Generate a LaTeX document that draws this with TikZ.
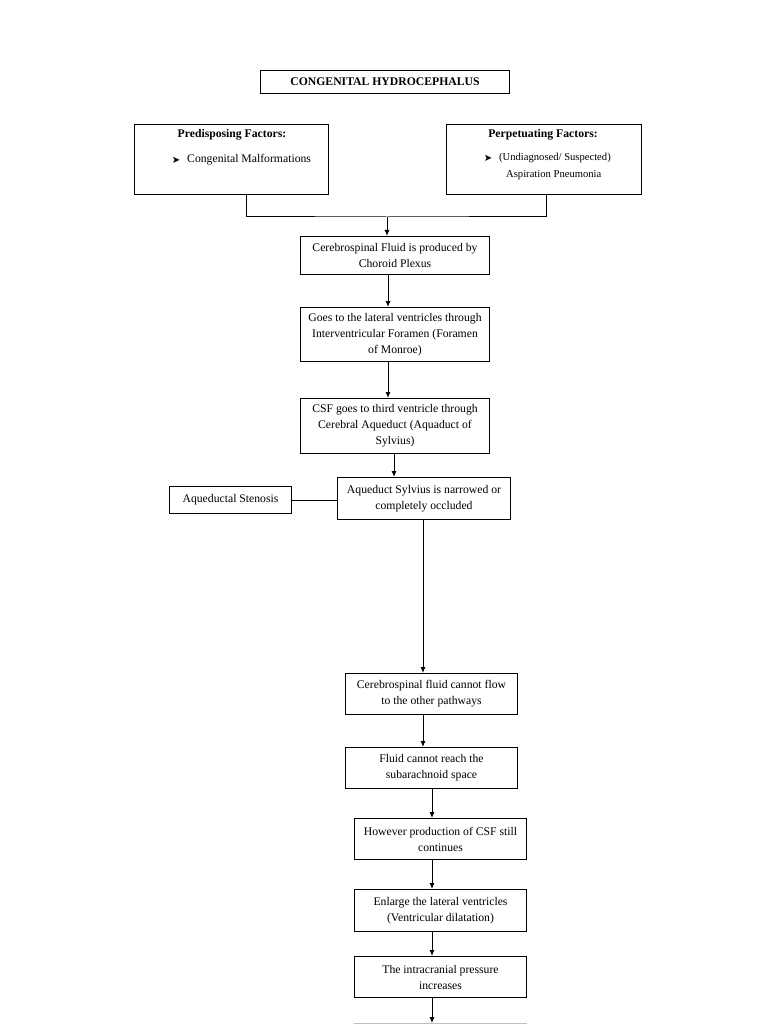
\documentclass[tikz,border=0pt]{standalone}
\usepackage{fontspec}
\setmainfont{Liberation Serif}
\newfontfamily\symf{DejaVu Sans}
\usetikzlibrary{arrows.meta}
\begin{document}
\begin{tikzpicture}[x=1pt,y=-1pt, font=\fontsize{11.7}{16}\selectfont,
  box/.style={draw, line width=1pt, inner sep=0pt, anchor=north west, align=center},
  txt/.style={inner sep=0pt},
  small/.style={font=\fontsize{10.6}{15}\selectfont},
  arr/.style={line width=1pt, -{Latex[length=6pt,width=5pt]}},
  ln/.style={line width=1pt}]
\useasboundingbox[fill=white] (0,0) rectangle (768,1024);

\node[box, minimum width=249, minimum height=23] (title) at (260,70) {\textbf{CONGENITAL HYDROCEPHALUS}};

% predisposing
\node[box, minimum width=194, minimum height=70] (pre) at (134,124) {};
\node[txt] (preH) at (232,135) {\textbf{Predisposing Factors:}};
\node[txt] (preBul) at (176,160) {\symf\fontsize{10}{12}\selectfont ➤};
\node[txt, anchor=west] (preB) at (187,160) {Congenital Malformations};

% perpetuating
\node[box, minimum width=195, minimum height=70] (per) at (446,124) {};
\node[txt] (perH) at (543,135) {\textbf{Perpetuating Factors:}};
\node[txt] (perBul) at (488,158) {\symf\fontsize{10}{12}\selectfont ➤};
\node[txt, small, anchor=west] (perB1) at (499,158) {(Undiagnosed/ Suspected)};
\node[txt, small, anchor=west] (perB2) at (506,175) {Aspiration Pneumonia};

% chain
\node[box, minimum width=189, minimum height=38] (b1) at (300,236) {Cerebrospinal Fluid is produced by\\Choroid Plexus};
\node[box, minimum width=189, minimum height=54] (b2) at (300,307) {Goes to the lateral ventricles through\\Interventricular Foramen (Foramen\\of Monroe)};
\node[box, minimum width=189, minimum height=55] (b3) at (300,398) {CSF goes to third ventricle through\\Cerebral Aqueduct (Aquaduct of\\Sylvius)};
\node[box, minimum width=173, minimum height=42] (b4) at (337,477) {Aqueduct Sylvius is narrowed or\\completely occluded};
\node[box, minimum width=122, minimum height=27] (sten) at (169,486) {Aqueductal Stenosis};
\node[box, minimum width=172, minimum height=41] (b5) at (345,673) {Cerebrospinal fluid cannot flow\\to the other pathways};
\node[box, minimum width=172, minimum height=41] (b6) at (345,747) {Fluid cannot reach the\\subarachnoid space};
\node[box, minimum width=172, minimum height=41] (b7) at (354,818) {However production of CSF still\\continues};
\node[box, minimum width=172, minimum height=42] (b8) at (354,889) {Enlarge the lateral ventricles\\(Ventricular dilatation)};
\node[box, minimum width=172, minimum height=41] (b9) at (354,956) {The intracranial pressure\\increases};
\node[box, draw=black!25, minimum width=172, minimum height=40] (b10) at (354,1023) {};

% connectors
\coordinate (join) at (387,217);
\draw[ln] (pre.south -| 246,0) |- (join) -| (per.south -| 546,0);
\draw[arr] (join) -- (b1.north -| join);
\draw[arr] (b1.south -| 388,0) -- (b2.north -| 388,0);
\draw[arr] (b2.south -| 388,0) -- (b3.north -| 388,0);
\draw[arr] (b3.south -| 394,0) -- (b4.north -| 394,0);
\draw[ln] (sten.east) -- (sten.east -| b4.west);
\draw[arr] (b4.south -| 423,0) -- (b5.north -| 423,0);
\draw[arr] (b5.south -| 423,0) -- (b6.north -| 423,0);
\draw[arr] (b6.south -| 432,0) -- (b7.north -| 432,0);
\draw[arr] (b7.south -| 432,0) -- (b8.north -| 432,0);
\draw[arr] (b8.south -| 432,0) -- (b9.north -| 432,0);
\draw[arr] (b9.south -| 432,0) -- (b10.north -| 432,0);
\end{tikzpicture}
\end{document}
